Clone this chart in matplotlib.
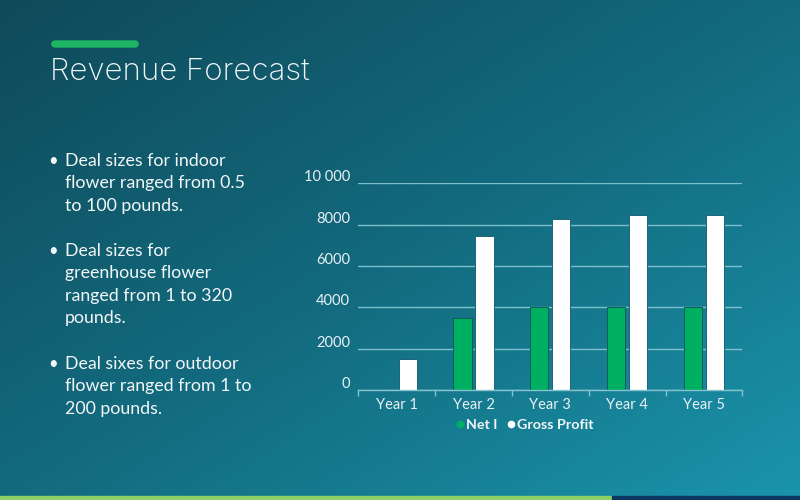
import numpy as np
import matplotlib
matplotlib.use("Agg")
import matplotlib.pyplot as plt
from matplotlib.colors import LinearSegmentedColormap
from matplotlib.patches import FancyBboxPatch, Rectangle
from matplotlib.transforms import ScaledTranslation
from matplotlib.lines import Line2D

categories = ["Year 1", "Year 2", "Year 3", "Year 4", "Year 5"]
net_income = [0, 3500, 4000, 4000, 4000]
gross_profit = [1500, 7450, 8250, 8450, 8450]
y_ticks = [0, 2000, 4000, 6000, 8000, 10000]
y_tick_labels = ["0", "2000", "4000", "6000", "8000", "10 000"]
legend_labels = ["Net I", "Gross Profit"]
title = "Revenue Forecast"
bullets = [
    ["Deal sizes for indoor", "flower ranged from 0.5", "to 100 pounds."],
    ["Deal sizes for", "greenhouse flower", "ranged from 1 to 320", "pounds."],
    ["Deal sixes for outdoor", "flower ranged from 1 to", "200 pounds."],
]

W, H = 800, 500
fig = plt.figure(figsize=(8, 5), dpi=100)

# background gradient
bg = fig.add_axes([0, 0, 1, 1])
bg.set_axis_off()
yy, xx = np.mgrid[0:1:200j, 0:1:320j]
t = 0.5 * xx + 0.5 * yy
cmap = LinearSegmentedColormap.from_list("bg", ["#0e4a5a", "#136a7e", "#1a94ab"])
bg.imshow(t, cmap=cmap, aspect="auto", extent=[0, 1, 0, 1], origin="upper", vmin=0, vmax=1)
bg.set_xlim(0, 1)
bg.set_ylim(0, 1)
# bottom stripes
bg.add_patch(Rectangle((0, 0), 612 / W, 4 / H, color="#8bd163", transform=bg.transAxes))
bg.add_patch(Rectangle((612 / W, 0), 1 - 612 / W, 4 / H, color="#0b3962", transform=bg.transAxes))
# green accent bar
bg.add_patch(FancyBboxPatch((52 / W, 1 - 47 / H), 86 / W, 6 / H,
                            boxstyle="round,pad=0,rounding_size=0.004",
                            color="#1db464", transform=bg.transAxes, mutation_aspect=1.6))

fig.text(50 / W, 1 - 80 / H, title, fontsize=22.5, color="#f2f7f8",
         family="Inter", weight="light", va="baseline", ha="left")

# bullets
text_font = ["Lato", "DejaVu Sans"]
starts = [161, 251, 364]
for para, y0 in zip(bullets, starts):
    fig.text(53 / W, 1 - y0 / H, "•", fontsize=12, color="#f2f7f8", family=text_font,
             va="center", ha="center")
    for i, line in enumerate(para):
        fig.text(65 / W, 1 - (y0 + i * 22.4) / H, line, fontsize=12.8, color="#f2f7f8",
                 family=text_font, va="center", ha="left")

# chart
ax = fig.add_axes([358.3 / W, 1 - 390 / H, (742.3 - 358.3) / W, (390 - 183.3) / H])
ax.patch.set_alpha(0)
x = np.arange(len(categories))
bw = 0.235
off = 0.143
ax.bar(x - off, net_income, width=bw, color="#00b062", edgecolor="#0b5e55", linewidth=0.7, zorder=3)
ax.bar(x + off, gross_profit, width=bw, color="#ffffff", edgecolor="#1c6577", linewidth=0.7, zorder=3)
ax.set_xlim(-0.5, len(categories) - 0.5)
ax.set_ylim(0, 10000)
ax.set_yticks(y_ticks)
ax.set_yticklabels(y_tick_labels)
ax.set_xticks(x)
ax.set_xticklabels(categories)
ax.set_xticks(np.arange(len(categories) + 1) - 0.5, minor=True)
ax.tick_params(axis="x", which="major", length=0, pad=6, labelsize=10.5, labelcolor="#e8f2f4")
ax.tick_params(axis="x", which="minor", length=4, color="#86c3cf", width=1)
ax.tick_params(axis="y", length=0, pad=6, labelsize=10.5, labelcolor="#e8f2f4")
for lab in ax.get_yticklabels():
    lab.set_transform(lab.get_transform() + ScaledTranslation(0, 5.5 / 72, fig.dpi_scale_trans))
for lab in ax.get_xticklabels() + ax.get_yticklabels():
    lab.set_family(text_font)
ax.yaxis.grid(True, color="#7dbfcb", linewidth=1, zorder=0)
ax.set_axisbelow(True)
for s in ["top", "right", "left"]:
    ax.spines[s].set_visible(False)
ax.spines["bottom"].set_color("#86c3cf")
ax.spines["bottom"].set_linewidth(1)
ax.spines["bottom"].set_zorder(4)

handles = [Line2D([], [], marker="o", linestyle="none", markersize=4.5, color="#00b062"),
           Line2D([], [], marker="o", linestyle="none", markersize=4.5, color="#ffffff")]
leg = fig.legend(handles, legend_labels, loc="center", bbox_to_anchor=(524 / W, 1 - 425 / H),
                 ncol=2, frameon=False, handletextpad=0.0, columnspacing=0.6, handlelength=0.8,
                 prop={"family": "Lato", "weight": "bold", "size": 10.3})
for t_ in leg.get_texts():
    t_.set_color("#f2f7f8")

fig.savefig("out.png", dpi=100)
